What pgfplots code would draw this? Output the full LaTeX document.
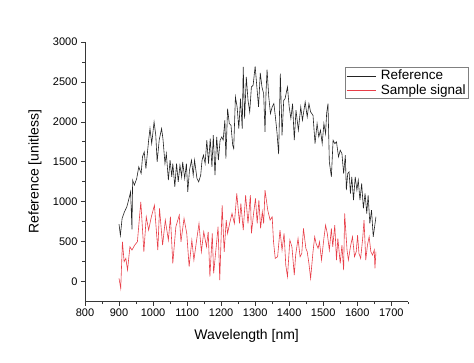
\documentclass[border=0pt]{standalone}
\usepackage{fontspec}
\setmainfont{Liberation Sans}
\usepackage{pgfplots}
\pgfplotsset{compat=1.18}
\definecolor{refc}{RGB}{35,35,35}
\definecolor{sigc}{RGB}{232,62,72}
\definecolor{axc}{RGB}{55,55,55}
\begin{document}
\begin{tikzpicture}[x=1pt,y=1pt]
\useasboundingbox (-85,-60.3) rectangle (389,301.7);
\begin{axis}[
  at={(0,0)}, anchor=south west,
  scale only axis, width=323.3pt, height=259.7pt,
  xmin=800, xmax=1750, ymin=-250, ymax=3000,
  axis x line*=bottom, axis y line*=left,
  xtick={800,900,...,1700}, minor x tick num=1,
  ytick={0,500,...,3000}, minor y tick num=1,
  extra x ticks={1750}, extra x tick labels={},
  extra x tick style={major tick length=2.5pt},
  tick align=outside,
  major tick length=4pt, minor tick length=2.5pt,
  every tick/.style={axc, line width=0.8pt},
  axis line style={axc, line width=0.9pt},
  tick label style={font=\fontsize{11}{13}\selectfont},
  /pgf/number format/assume math mode=true,
  /pgf/number format/1000 sep={},
  xlabel={Wavelength [nm]}, ylabel={Reference [unitless]},
  label style={font=\fontsize{14}{16}\selectfont},
  xlabel style={at={(axis description cs:0.5,-0.132)}, anchor=center},
  ylabel style={at={(axis description cs:-0.1547,0.5)}, anchor=center},
  legend style={at={(axis description cs:0.804,0.904)}, anchor=north west,
    draw=gray, line width=0.6pt, font=\fontsize{13.5}{15}\selectfont,
    inner xsep=1pt, inner ysep=1pt, row sep=-1pt, column sep=3pt},
  legend cell align=left,
  legend image code/.code={\draw[#1] (1pt,0pt) -- (30pt,0pt);},
]
\addplot[refc, line width=0.6pt] coordinates {
(900,720)(904,580)(909,792)(916,875)(923,938)(928,1021)(934,1125)(938,655)
(940,1271)(945,1208)(952,1292)(958,1438)(965,1354)(969,1563)(974,1625)(979,1417)
(987,1771)(991,1917)(996,1729)(1003,2000)(1008,1833)(1012,1500)(1018,1771)(1025,1917)
(1029,1792)(1035,1479)(1039,1604)(1045,1271)(1050,1521)(1055,1313)(1058,1479)(1064,1188)
(1069,1479)(1074,1250)(1079,1458)(1084,1313)(1087,1500)(1093,1292)(1098,1479)(1102,1125)
(1107,1396)(1113,1521)(1118,1333)(1122,1521)(1129,1292)(1134,1250)(1140,1333)(1144,1521)
(1148,1584)(1153,1479)(1158,1771)(1163,1479)(1168,1792)(1173,1438)(1177,1833)(1182,1333)
(1187,1813)(1192,1521)(1197,1771)(1202,1813)(1206,1771)(1211,2021)(1214,1542)(1219,2167)
(1224,1979)(1229,1958)(1234,1708)(1237,1667)(1242,2313)(1247,2188)(1252,1917)(1257,2292)
(1262,1917)(1265,2688)(1269,2042)(1274,2563)(1279,2271)(1284,2125)(1289,2438)(1294,2458)
(1300,2696)(1305,2438)(1310,2188)(1315,2613)(1320,2438)(1325,2354)(1329,1875)(1332,2375)
(1335,2654)(1340,2313)(1345,2104)(1350,2188)(1355,2229)(1359,2083)(1364,1875)(1369,1596)
(1374,2604)(1379,1833)(1384,2271)(1388,2292)(1395,2438)(1400,2188)(1405,2042)(1410,2229)
(1415,1771)(1420,2146)(1427,1896)(1434,2188)(1439,2021)(1447,2250)(1453,2063)(1458,2229)
(1463,2125)(1470,2083)(1476,1729)(1482,1979)(1487,1813)(1492,1896)(1497,1729)(1502,1979)
(1507,1854)(1510,2104)(1514,2229)(1518,1500)(1524,1313)(1529,1771)(1534,1729)(1539,1750)
(1545,1563)(1550,1646)(1555,1604)(1560,1354)(1565,1583)(1568,1146)(1572,1354)(1576,1375)
(1580,1104)(1584,1313)(1589,1021)(1594,1313)(1599,1146)(1603,1271)(1608,1021)(1613,1229)
(1618,917)(1623,1104)(1628,854)(1632,1083)(1637,729)(1642,896)(1647,563)(1655,813)
};
\addlegendentry{Reference}
\addplot[sigc, line width=0.6pt] coordinates {
(900,42)(905,-83)(910,500)(915,250)(920,292)(925,146)(932,438)(938,396)
(946,458)(954,500)(964,1000)(973,375)(980,813)(987,646)(995,813)(1004,958)
(1014,396)(1019,917)(1028,458)(1036,771)(1045,521)(1051,813)(1058,229)(1067,688)
(1077,833)(1082,500)(1091,792)(1099,604)(1106,188)(1114,521)(1120,271)(1128,521)
(1135,729)(1142,375)(1149,625)(1157,438)(1162,625)(1167,63)(1174,604)(1178,104)
(1186,458)(1191,688)(1196,21)(1203,958)(1209,375)(1215,771)(1219,604)(1225,729)
(1232,854)(1239,729)(1246,1104)(1254,729)(1258,979)(1265,646)(1272,1083)(1279,729)
(1286,1083)(1289,604)(1296,875)(1301,1042)(1306,729)(1311,1021)(1316,667)(1321,875)
(1325,729)(1329,1146)(1337,896)(1344,771)(1350,813)(1354,500)(1359,292)(1366,313)
(1373,646)(1379,396)(1385,604)(1390,208)(1395,63)(1402,521)(1408,438)(1415,83)
(1419,333)(1426,542)(1432,313)(1437,354)(1442,667)(1449,417)(1453,375)(1458,229)
(1463,42)(1470,375)(1475,563)(1479,479)(1485,417)(1489,500)(1495,271)(1502,542)
(1507,708)(1512,604)(1518,396)(1524,667)(1528,438)(1534,708)(1539,271)(1543,542)
(1550,229)(1555,458)(1560,146)(1563,854)(1570,396)(1574,271)(1580,438)(1586,563)
(1592,313)(1597,375)(1601,583)(1605,354)(1610,292)(1616,542)(1620,771)(1625,271)
(1630,458)(1635,563)(1640,375)(1645,333)(1650,396)(1652,167)(1655,375)
};
\addlegendentry{Sample signal}
\end{axis}
\end{tikzpicture}
\end{document}
